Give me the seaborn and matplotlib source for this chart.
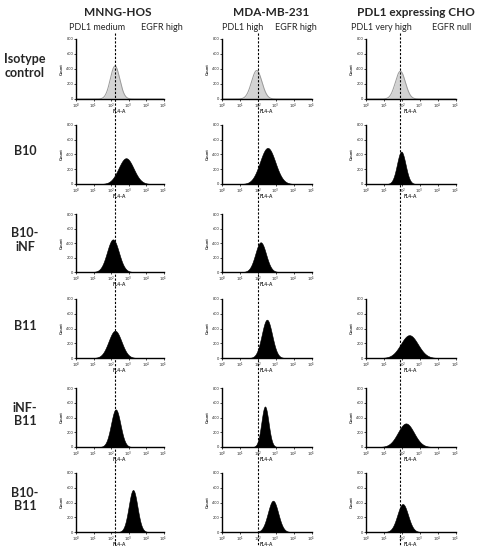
import numpy as np
import pandas as pd
import matplotlib
matplotlib.use('Agg')
import matplotlib.pyplot as plt
import matplotlib.transforms as mtransforms
from matplotlib.lines import Line2D
import seaborn as sns

sns.set_style('ticks')
plt.rcParams['font.family'] = ['Lato', 'DejaVu Sans']

# Cell lines (columns) and their expression notes
cell_lines = ['MNNG-HOS', 'MDA-MB-231', 'PDL1 expressing CHO']
pdl1_notes = ['PDL1 medium', 'PDL1 high', 'PDL1 very high']
egfr_notes = ['EGFR high', 'EGFR high', 'EGFR null']

# Treatments (rows)
treatments = ['Isotype\ncontrol', 'B10', 'B10-\niNF', 'B11', 'iNF-\nB11', 'B10-\nB11']

# Peak position (log10 FL4-A), peak count and spread (decades) read per panel
peak_log = [[2.23, 1.94, 1.92],
            [2.86, 2.55, 1.97],
            [2.11, 2.16, None],
            [2.23, 2.51, 2.42],
            [2.27, 2.40, 2.23],
            [3.26, 2.85, 2.05]]
peak_count = [[440, 380, 370],
              [350, 490, 440],
              [450, 410, None],
              [370, 520, 310],
              [510, 550, 320],
              [570, 425, 380]]
spread = [[0.27, 0.29, 0.28],
          [0.43, 0.43, 0.24],
          [0.34, 0.30, None],
          [0.37, 0.29, 0.48],
          [0.27, 0.20, 0.45],
          [0.25, 0.29, 0.30]]

# Isotype gate (log10 FL4-A) per column
gate_log = [2.22, 2.0, 1.9]

y_ticks = [0, 200, 400, 600, 800]
x_decades = [0, 1, 2, 3, 4, 5]

W, H = 481, 550
fig = plt.figure(figsize=(W / 100, H / 100), dpi=100)

col_left = [76, 222, 366]
col_width = [87.5, 89.5, 89.5]
row_top = [39, 125, 214, 299, 388, 473]
row_base = [99, 184, 272, 358, 447, 532]

axes = {}
for r, treat in enumerate(treatments):
    for c in range(3):
        if peak_log[r][c] is None:
            continue
        left = col_left[c] / W
        bottom = 1 - row_base[r] / H
        ax = fig.add_axes([left, bottom, col_width[c] / W, (row_base[r] - row_top[r]) / H])
        axes[(r, c)] = ax

        logx = np.linspace(0, 5, 400)
        counts = peak_count[r][c] * np.exp(-0.5 * ((logx - peak_log[r][c]) / spread[r][c]) ** 2)
        df = pd.DataFrame({'FL4-A': 10 ** logx, 'Count': counts})

        ax.set_xscale('log')
        if r == 0:
            # isotype control: light grey fill, grey outline
            ax.fill_between(df['FL4-A'], df['Count'], color='#d3d3d3', lw=0)
            sns.lineplot(data=df, x='FL4-A', y='Count', ax=ax, color='#9a9a9a', lw=0.7)
        else:
            ax.fill_between(df['FL4-A'], df['Count'], facecolor='black',
                            edgecolor='black', lw=0.4)

        ax.set_xlim(1, 1e5)
        ax.set_ylim(0, 800)
        ax.set_xticks([10 ** d for d in x_decades])
        ax.set_xticklabels([r'$10^{%d}$' % d for d in x_decades])
        ax.xaxis.set_minor_locator(matplotlib.ticker.NullLocator())
        ax.set_yticks(y_ticks)
        ax.set_yticklabels([str(v) for v in y_ticks])
        ax.tick_params(labelsize=2.8, length=1.5, width=0.6, pad=0.6)
        ax.set_xlabel('FL4-A', fontsize=3.5, fontweight='bold')
        ax.xaxis.set_label_coords(0.5, -0.175)
        ax.set_ylabel('Count', fontsize=3.2, fontweight='bold', labelpad=2)
        sns.despine(ax=ax)
        for side in ['left', 'bottom']:
            ax.spines[side].set_linewidth(1.0)
            ax.spines[side].set_color('black')
        ax.set_facecolor('none')

# Dashed gate line running down each column
for c in range(3):
    ax = axes[(0, c)]
    trans = mtransforms.blended_transform_factory(ax.transData, fig.transFigure)
    fig.add_artist(Line2D([10 ** gate_log[c]] * 2, [1 - 33 / H, 1 - 545 / H],
                          transform=trans, color='black', lw=0.8,
                          linestyle=(0, (2, 1.5)), zorder=10))

# Column headers
title_x = [118, 271, 416]
note_x = [(97, 162), (243, 296), (381, 452)]
for c, name in enumerate(cell_lines):
    fig.text(title_x[c] / W, 1 - 12 / H, name, ha='center', va='center',
             fontsize=8.5, fontweight='bold')
    fig.text(note_x[c][0] / W, 1 - 28 / H, pdl1_notes[c], ha='center', va='center', fontsize=6.5)
    fig.text(note_x[c][1] / W, 1 - 28 / H, egfr_notes[c], ha='center', va='center', fontsize=6.5)

# Row labels
for r, treat in enumerate(treatments):
    yc = (row_top[r] + row_base[r]) / 2 - 3
    fig.text(25 / W, 1 - yc / H, treat, ha='center', va='center',
             fontsize=9, fontweight='bold', linespacing=1.15)

fig.savefig('out.png', dpi=100, facecolor='white')
